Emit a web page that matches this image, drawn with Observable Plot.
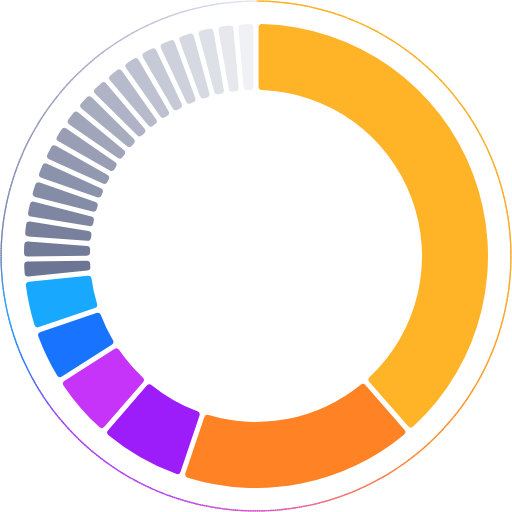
<!DOCTYPE html>
<html>
<head>
<meta charset="utf-8">
<script src="https://cdn.jsdelivr.net/npm/d3@7"></script>
<script src="https://cdn.jsdelivr.net/npm/@observablehq/plot@0.6"></script>
<style>
  html, body { margin: 0; padding: 0; background: #ffffff; }
  #chart { width: 512px; height: 512px; }
</style>
</head>
<body>
<div id="chart"></div>
<script>
// ---- Data (clockwise from 12 o'clock) ----
const categories = [
  "Segment 1", "Segment 2", "Segment 3", "Segment 4", "Segment 5", "Segment 6",
  "Other 1", "Other 2", "Other 3", "Other 4", "Other 5", "Other 6", "Other 7",
  "Other 8", "Other 9", "Other 10", "Other 11", "Other 12", "Other 13",
  "Other 14", "Other 15", "Other 16", "Other 17", "Other 18", "Other 19"
];
const values = [
  38.55, 16.6, 6.2, 4.6, 3.8, 3.6,
  1.4, 1.4, 1.4, 1.4, 1.4, 1.4, 1.4, 1.4, 1.4, 1.4,
  1.4, 1.4, 1.4, 1.4, 1.4, 1.4, 1.4, 1.4, 1.4
];
const colors = [
  "#FFB327", "#FF8225", "#9D1CFA", "#C633F9", "#1874FF", "#18A9FF",
  "#6C7594", "#727B98", "#78809C", "#7E86A1", "#858CA6", "#8B92AB", "#9298B0",
  "#999EB5", "#A0A5BA", "#A7ACBF", "#AFB3C5", "#B6BACA", "#BEC1D0", "#C6C9D6",
  "#CED1DC", "#D6D8E2", "#DEE0E8", "#E7E8EE", "#F0F1F5"
];
// outer decorative ring gradient stops (angle in degrees, colour)
const ringStops = [
  [0, "#FFB327"], [100, "#FFA92A"], [140, "#FF8C32"], [160, "#F4766A"],
  [180, "#D45CC8"], [205, "#B443F2"], [230, "#A546F8"], [245, "#2F7CFF"],
  [258, "#2CA2FF"], [272, "#7A86B0"], [310, "#A0A6C2"], [340, "#C9CCDD"],
  [360, "#E9EAF1"]
];

// ---- Build table ----
const total = d3.sum(values);
let acc = 0;
const rows = categories.map((c, i) => {
  const start = acc;
  acc += values[i];
  return {category: c, value: values[i], start, end: acc, color: colors[i], ring: "ring"};
});

const W = 512, H = 512;
const R_OUT = 232, R_IN = 166, RING_R = 254.9, RING_W = 1.3;

const ringColor = (deg) => {
  for (let k = 1; k < ringStops.length; k++) {
    if (deg <= ringStops[k][0]) {
      const [a0, c0] = ringStops[k - 1], [a1, c1] = ringStops[k];
      return d3.interpolateRgb(c0, c1)((deg - a0) / (a1 - a0));
    }
  }
  return ringStops[ringStops.length - 1][1];
};

const chart = Plot.plot({
  width: W,
  height: H,
  margin: 0,
  style: {background: "#ffffff"},
  x: {domain: [0, total], range: [0, 2 * Math.PI], axis: null},
  y: {axis: null},
  marks: [
    Plot.barX(rows, {
      x1: "start",
      x2: "end",
      y: "ring",
      fill: "color",
      render(index, scales, vals, dims) {
        const g = d3.create("svg:g")
          .attr("transform", `translate(${dims.width / 2},${dims.height / 2})`);
        // decorative outer ring with angular gradient
        const ringArc = d3.arc().innerRadius(RING_R - RING_W / 2).outerRadius(RING_R + RING_W / 2);
        const step = 0.5;
        for (let a = 0; a < 360; a += step) {
          g.append("path")
            .attr("d", ringArc({startAngle: a * Math.PI / 180, endAngle: (a + step + 0.3) * Math.PI / 180}))
            .attr("fill", ringColor(a + step / 2));
        }
        // donut segments
        const arc = d3.arc()
          .innerRadius(R_IN)
          .outerRadius(R_OUT)
          .padAngle(0.0178)
          .padRadius(Math.hypot(R_IN, R_OUT))
          .cornerRadius(3.5);
        g.selectAll("path.seg")
          .data(index)
          .join("path")
          .attr("class", "seg")
          .attr("d", i => arc({startAngle: vals.x1[i], endAngle: vals.x2[i]}))
          .attr("fill", i => vals.fill[i]);
        return g.node();
      }
    })
  ]
});

document.getElementById("chart").appendChild(chart);
</script>
</body>
</html>
